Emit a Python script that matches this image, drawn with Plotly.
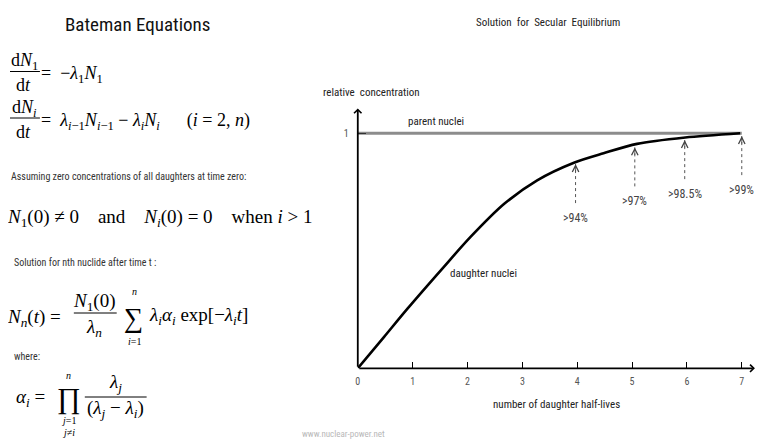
import plotly.graph_objects as go

# --- data ---
half_lives = [0, 0.48, 0.91, 1.57, 2.06, 2.67, 3.27, 3.94, 4.48, 5.09, 5.97, 6.97]
daughter = [0, 0.134, 0.255, 0.432, 0.56, 0.70, 0.80, 0.875, 0.915, 0.955, 0.982, 1.0]
parent_x = [0, 7]
parent_y = [1, 1]

pct_labels = [">94%", ">97%", ">98.5%", ">99%"]
pct_x = [3.97, 5.05, 5.96, 7.0]
pct_y = [0.869, 0.94, 0.971, 0.988]

x_ticks = [0, 1, 2, 3, 4, 5, 6, 7]
y_ticks = [1]

W, H = 760, 440
OFF = 8  # the page body adds an 8px margin
NARROW = "Roboto Condensed, DejaVu Sans Condensed, sans-serif"
SERIF = "Liberation Serif, Times New Roman, DejaVu Serif, serif"
NB = "\u00a0"


def px(x):
    return (x - OFF) / W


def py(y):
    return 1 - (y - OFF) / H


fig = go.Figure()

fig.add_trace(go.Scatter(
    x=parent_x, y=parent_y, mode="lines",
    line=dict(color="#8c8c8c", width=3), hoverinfo="skip",
))
fig.add_trace(go.Scatter(
    x=half_lives, y=daughter, mode="lines",
    line=dict(color="black", width=2.6, shape="spline", smoothing=0.8),
    hoverinfo="skip",
))

annotations = []
shapes = []


def txt(x, y, text, size, font=SERIF, anchor="left", color="black"):
    if anchor == "left":
        x -= 5  # annotation box padding
    annotations.append(dict(
        x=px(x), y=py(y), xref="paper", yref="paper", text=text,
        showarrow=False, xanchor=anchor, yanchor="middle",
        font=dict(family=font, size=size, color=color),
    ))


def bar(x0, x1, y):
    shapes.append(dict(type="line", xref="paper", yref="paper",
                       x0=px(x0), x1=px(x1), y0=py(y), y1=py(y),
                       line=dict(color="black", width=1)))


# ---- left panel: Bateman equations ----
txt(136, 24, "Bateman Equations", 19, NARROW, "center", "#111")

# dN1/dt
txt(23, 62, "d<i>N</i><sub>1</sub>", 18, anchor="center")
bar(8, 38, 71.5)
txt(22, 85, "d<i>t</i>", 18, anchor="center")
txt(42, 74, "=" + NB + " −<i>λ</i><sub>1</sub><i>N</i><sub>1</sub>", 18)

# dNi/dt
txt(23, 109, "d<i>N<sub>i</sub></i>", 18, anchor="center")
bar(8, 38, 118)
txt(22, 132, "d<i>t</i>", 18, anchor="center")
txt(42, 121, "=" + NB + " <i>λ</i><sub><i>i</i>−1</sub><i>N</i><sub><i>i</i>−1</sub>" + NB + "−" + NB
    + "<i>λ<sub>i</sub>N<sub>i</sub></i>" + NB * 6 + "(<i>i</i> = 2, <i>n</i>)", 18)

txt(12, 177, "Assuming zero concentrations of all daughters at time zero:", 10, NARROW, color="#333")

txt(8, 218, "<i>N</i><sub>1</sub>(0) ≠ 0" + NB * 4 + "and" + NB * 4
    + "<i>N<sub>i</sub></i>(0) = 0" + NB * 4 + "when <i>i</i> > 1", 19)

txt(15, 262, "Solution for nth nuclide after time t :", 10, NARROW, color="#333")

# Nn(t)
txt(8, 318, "<i>N<sub>n</sub></i>(<i>t</i>) =", 19)
txt(93, 302, "<i>N</i><sub>1</sub>(0)", 19, anchor="center")
bar(72, 115, 313)
txt(92, 328, "<i>λ<sub>n</sub></i>", 19, anchor="center")
txt(132, 318, "∑", 27, anchor="center")
txt(133, 291, "<i>n</i>", 10, anchor="center")
txt(133, 341, "<i>i</i>=1", 10, anchor="center")
txt(150, 316, "<i>λ<sub>i</sub>α<sub>i</sub></i> exp[−<i>λ<sub>i</sub>t</i>]", 19)

txt(15, 356, "where:", 10, NARROW, color="#333")

# alpha_i
txt(17, 398, "<i>α<sub>i</sub></i> =", 19)
txt(67, 398, "∏", 29, anchor="center")
txt(67, 375, "<i>n</i>", 10, anchor="center")
txt(67, 420, "<i>j</i>=1", 10, anchor="center")
txt(67, 432, "<i>j</i>≠<i>i</i>", 10, anchor="center")
txt(114, 383, "<i>λ<sub>j</sub></i>", 19, anchor="center")
bar(83, 145, 397)
txt(114, 409, "(<i>λ<sub>j</sub></i> − <i>λ<sub>i</sub></i>)", 19, anchor="center")

# ---- right panel: chart texts ----
txt(547, 23, "Solution" + NB * 2 + "for" + NB * 2 + "Secular" + NB * 2 + "Equilibrium", 11, NARROW, "center", "#222")
txt(325, 93, "relative" + NB + " concentration", 11, NARROW, color="#222")
txt(410, 122, "parent nuclei", 11, NARROW, color="#222")
txt(452, 273, "daughter nuclei", 11, NARROW, color="#222")
txt(556, 404, "number of daughter half-lives", 11, NARROW, "center", "#222")
txt(342, 434, "www.nuclear-power.net", 9, NARROW, "center", "#b8b8b8")

# axis arrows
annotations.append(dict(x=7.24, y=0, ax=0, ay=0, xref="x", yref="y", axref="x", ayref="y",
                        text="", showarrow=True, arrowhead=4, arrowsize=0.8,
                        arrowwidth=1.8, arrowcolor="black"))
annotations.append(dict(x=0, y=1.106, ax=0, ay=0, xref="x", yref="y", axref="x", ayref="y",
                        text="", showarrow=True, arrowhead=4, arrowsize=0.8,
                        arrowwidth=1.8, arrowcolor="black"))

# dotted arrows to the curve
for lab, xv, yv in zip(pct_labels, pct_x, pct_y):
    shapes.append(dict(type="line", xref="x", yref="y", ysizemode="pixel",
                       yanchor=yv, x0=xv, x1=xv, y0=0, y1=-40,
                       line=dict(color="#555", width=1, dash="dot")))
    annotations.append(dict(x=xv, y=yv, xref="x", yref="y", ax=0, ay=9,
                            text="", showarrow=True, arrowhead=5, arrowsize=1.6,
                            arrowwidth=0.8, arrowcolor="#444"))
    annotations.append(dict(x=xv, y=yv, xref="x", yref="y", yshift=-54,
                            text=lab, showarrow=False,
                            font=dict(family=NARROW, size=12, color="#444")))

fig.update_layout(
    width=W, height=H,
    margin=dict(l=0, r=0, t=0, b=0),
    paper_bgcolor="white", plot_bgcolor="white",
    showlegend=False,
    xaxis=dict(domain=[px(356.7), px(758.2)], range=[0, 7.3],
               tickvals=x_ticks, ticks="inside", ticklen=6, tickcolor="black",
               ticklabelstandoff=6,
               showgrid=False, zeroline=False, showline=False,
               tickfont=dict(family=NARROW, size=10, color="#555")),
    yaxis=dict(domain=[py(368.3), py(105.1)], range=[0, 1.12],
               tickvals=y_ticks, ticks="inside", ticklen=8, tickcolor="#333",
               ticklabelstandoff=8,
               showgrid=False, zeroline=False, showline=False,
               tickfont=dict(family=NARROW, size=10, color="#555")),
    annotations=annotations,
    shapes=shapes,
)

fig.write_html("out.html")
